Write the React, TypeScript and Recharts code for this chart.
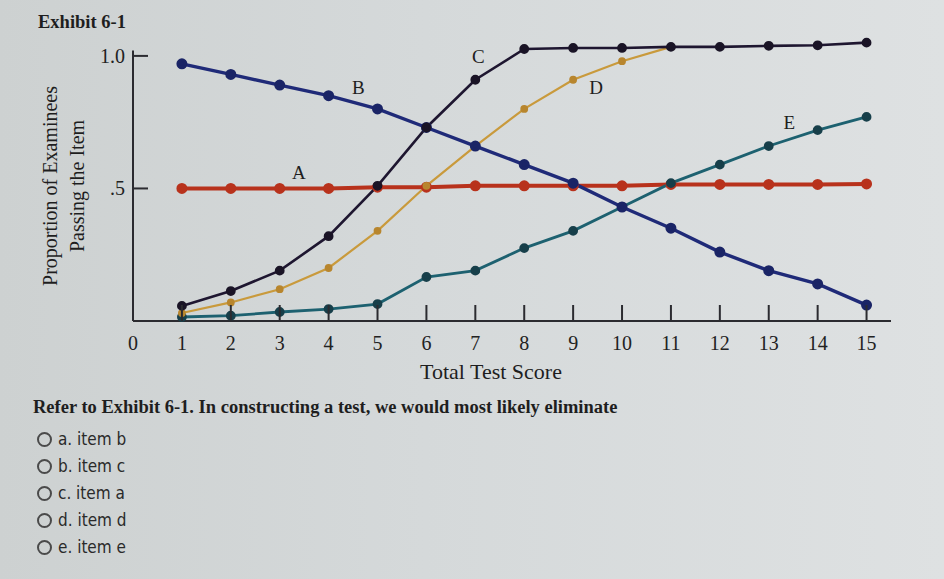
import React from "react"
import { LineChart, Line, XAxis, YAxis, ReferenceLine, ReferenceDot } from "recharts"

const scores = [1, 2, 3, 4, 5, 6, 7, 8, 9, 10, 11, 12, 13, 14, 15]
const itemA = [0.5, 0.5, 0.5, 0.5, 0.505, 0.505, 0.51, 0.51, 0.51, 0.51, 0.515, 0.515, 0.515, 0.515, 0.517]
const itemB = [0.97, 0.93, 0.89, 0.85, 0.8, 0.73, 0.66, 0.59, 0.52, 0.43, 0.35, 0.26, 0.19, 0.14, 0.06]
const itemC = [0.057, 0.113, 0.19, 0.32, 0.51, 0.73, 0.91, 1.026, 1.03, 1.03, 1.034, 1.034, 1.038, 1.04, 1.05]
const itemD = [0.03, 0.07, 0.12, 0.2, 0.34, 0.51, 0.66, 0.8, 0.91, 0.98, 1.034, null, null, null, null]
const itemE = [0.015, 0.02, 0.034, 0.045, 0.064, 0.166, 0.19, 0.275, 0.34, 0.43, 0.52, 0.59, 0.66, 0.72, 0.77]

const xTicks = [0, 1, 2, 3, 4, 5, 6, 7, 8, 9, 10, 11, 12, 13, 14, 15]
const yTicks = [0.5, 1.0]
const yTickLabels = [".5", "1.0"]

// curve name labels, placed in data coordinates
const curveLabels = [
  { name: "A", x: 3.39, y: 0.562 },
  { name: "B", x: 4.61, y: 0.88 },
  { name: "C", x: 7.06, y: 1.0 },
  { name: "D", x: 9.47, y: 0.88 },
  { name: "E", x: 13.42, y: 0.75 },
]

const options = ["a. item b", "b. item c", "c. item a", "d. item d", "e. item e"]

const data = scores.map((s, i) => ({
  score: s,
  a: itemA[i],
  b: itemB[i],
  c: itemC[i],
  d: itemD[i],
  e: itemE[i],
}))

const SERIF = "'Liberation Serif', 'DejaVu Serif', serif"
const AXIS = "#2b2b30"

function XTick(props: any) {
  const { x, y, payload } = props
  return (
    <g>
      {payload.value !== 0 && <line x1={x} x2={x} y1={y - 16} y2={y} stroke={AXIS} strokeWidth={2} />}
      <text x={x} y={y + 29} textAnchor="middle" fontFamily={SERIF} fontSize={20} fill="#222">
        {payload.value}
      </text>
    </g>
  )
}

function YTick(props: any) {
  const { x, y, payload } = props
  const idx = yTicks.indexOf(payload.value)
  return (
    <g>
      <line x1={x} x2={x + 15} y1={y} y2={y} stroke={AXIS} strokeWidth={2} />
      <text x={x - 8} y={y + 7} textAnchor="end" fontFamily={SERIF} fontSize={20} fill="#222">
        {idx >= 0 ? yTickLabels[idx] : ""}
      </text>
    </g>
  )
}

export default function App() {
  return (
    <div
      style={{
        position: "absolute",
        left: 0,
        top: 0,
        width: 944,
        height: 579,
        overflow: "hidden",
        background: "linear-gradient(90deg, #cdd1d1 0%, #d5d9da 45%, #dee1e2 100%)",
        fontFamily: SERIF,
        color: "#1e1e1e",
      }}
    >
      <div style={{ position: "absolute", left: 38, top: 11, fontSize: 18.5, fontWeight: "bold", lineHeight: "22px" }}>
        Exhibit 6-1
      </div>

      <div
        style={{
          position: "absolute",
          left: 64 - 150,
          top: 186 - 27,
          width: 300,
          height: 54,
          transform: "rotate(-90deg)",
          textAlign: "center",
          fontSize: 20,
          lineHeight: "27px",
        }}
      >
        Proportion of Examinees
        <br />
        Passing the Item
      </div>

      <div style={{ position: "absolute", left: 0, top: 359, width: 982, textAlign: "center", fontSize: 22, lineHeight: "26px" }}>
        Total Test Score
      </div>

      <div style={{ position: "absolute", left: 0, top: 0 }}>
        <LineChart width={944} height={579} data={data} margin={{ top: 40, right: 53, bottom: 228, left: 93 }}>
          <XAxis
            dataKey="score"
            type="number"
            domain={[0, 15.5]}
            ticks={xTicks}
            interval={0}
            height={30}
            tickLine={false}
            tickSize={0}
            tickMargin={0}
            tick={<XTick />}
            axisLine={{ stroke: AXIS, strokeWidth: 2 }}
          />
          <YAxis
            type="number"
            domain={[0, 1.06]}
            ticks={yTicks}
            width={40}
            tickLine={false}
            tickSize={0}
            tickMargin={0}
            tick={<YTick />}
            axisLine={false}
          />
          <ReferenceLine
            segment={[
              { x: 0, y: 0 },
              { x: 0, y: 1.02 },
            ]}
            stroke={AXIS}
            strokeWidth={2}
          />
          <Line
            dataKey="a"
            stroke="#b8321c"
            strokeWidth={4}
            dot={{ r: 3.5, fill: "#b8321c", stroke: "#b8321c" }}
            isAnimationActive={false}
          />
          <Line
            dataKey="e"
            stroke="#1d6170"
            strokeWidth={2.8}
            dot={{ r: 3.5, fill: "#173f4a", stroke: "#173f4a" }}
            isAnimationActive={false}
          />
          <Line
            dataKey="d"
            stroke="#c99a3c"
            strokeWidth={2.2}
            dot={{ r: 2.8, fill: "#b8862e", stroke: "#b8862e" }}
            connectNulls={false}
            isAnimationActive={false}
          />
          <Line
            dataKey="b"
            stroke="#1f2a78"
            strokeWidth={3.4}
            dot={{ r: 3.8, fill: "#1a2466", stroke: "#1a2466" }}
            isAnimationActive={false}
          />
          <Line
            dataKey="c"
            stroke="#1e1630"
            strokeWidth={2.6}
            dot={{ r: 3.6, fill: "#1a1426", stroke: "#1a1426" }}
            isAnimationActive={false}
          />
          {curveLabels.map((l) => (
            <ReferenceDot
              key={l.name}
              x={l.x}
              y={l.y}
              r={0}
              fill="none"
              stroke="none"
              label={{ value: l.name, position: "center", fontFamily: SERIF, fontSize: 19, fill: "#1e1e1e" }}
            />
          ))}
        </LineChart>
      </div>

      <div style={{ position: "absolute", left: 33, top: 396, fontSize: 18.5, fontWeight: "bold", lineHeight: "22px", whiteSpace: "nowrap" }}>
        Refer to Exhibit 6-1. In constructing a test, we would most likely eliminate
      </div>

      {options.map((o, i) => (
        <div key={o} style={{ position: "absolute", left: 37, top: 439 + i * 27 - 10, height: 20, display: "flex", alignItems: "center" }}>
          <div
            style={{
              width: 11,
              height: 11,
              border: "2px solid #4a4a4a",
              borderRadius: "50%",
              marginRight: 6,
            }}
          />
          <span
            style={{
              fontFamily: "'DejaVu Sans Condensed', 'Liberation Sans Narrow', sans-serif",
              fontSize: 17,
              color: "#2a2a2a",
            }}
          >
            {o}
          </span>
        </div>
      ))}
    </div>
  )
}
